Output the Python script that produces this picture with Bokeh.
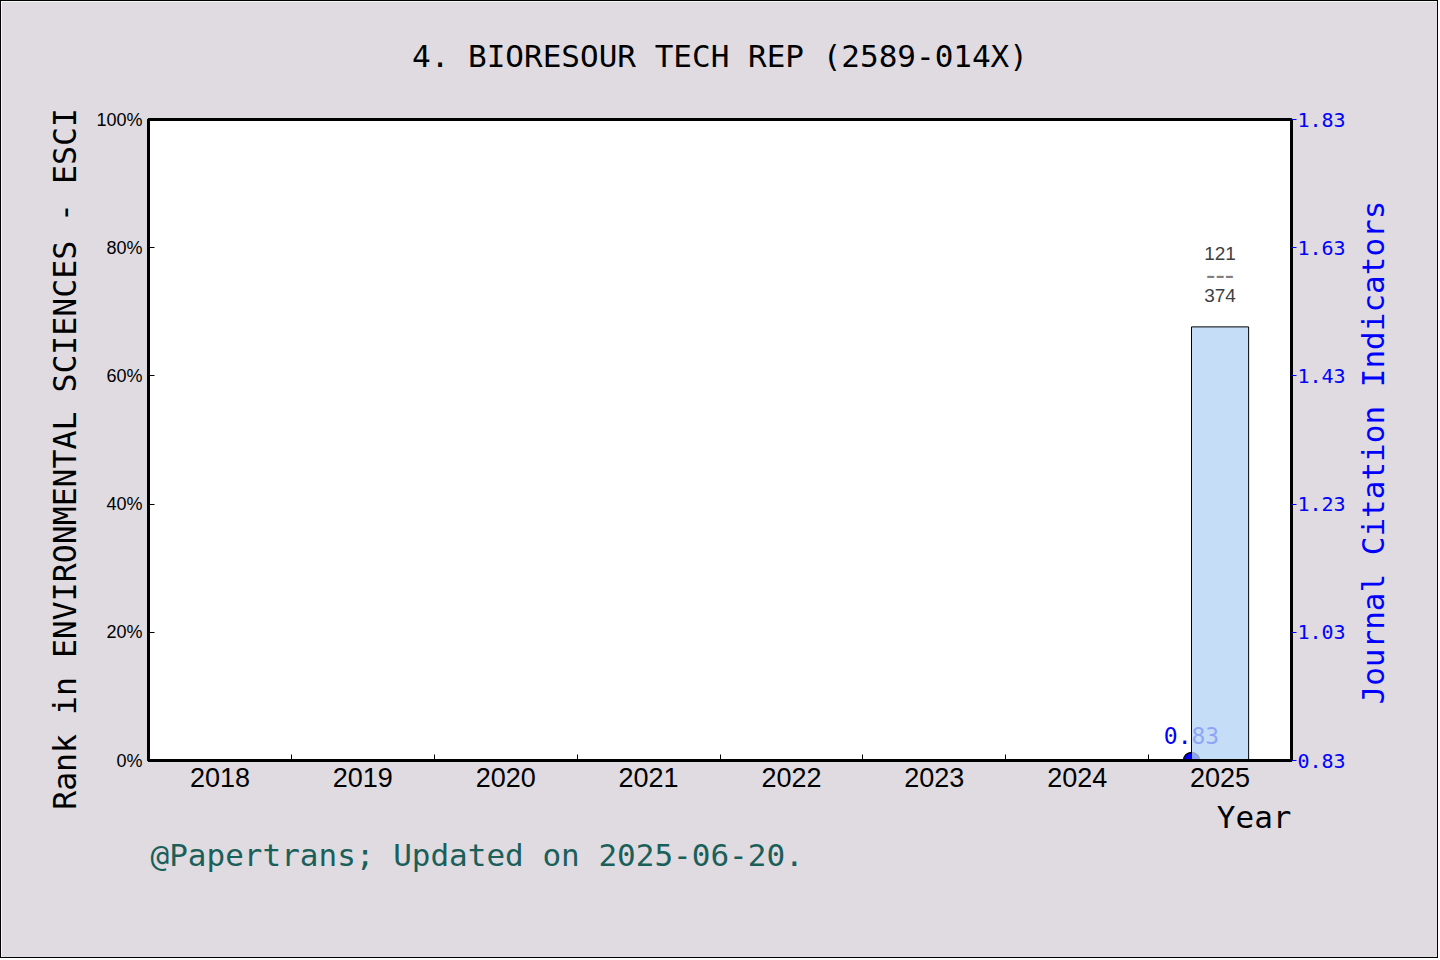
import math
from bokeh.plotting import figure
from bokeh.models import (Range1d, LinearAxis, FixedTicker, NumeralTickFormatter,
                          PrintfTickFormatter, Title, ColumnDataSource)
from bokeh.transform import dodge
from bokeh.core.properties import value
from bokeh.embed import file_html
from bokeh.resources import INLINE

# ---- data ----
years = [2018, 2019, 2020, 2021, 2022, 2023, 2024, 2025]
rank = [None, None, None, None, None, None, None, 121]
total = [None, None, None, None, None, None, None, 374]
jci = [None, None, None, None, None, None, None, 0.83]
title_text = "4. BIORESOUR TECH REP (2589-014X)"
category = "ENVIRONMENTAL SCIENCES - ESCI"
left_ticks = [0, 0.2, 0.4, 0.6, 0.8, 1.0]
right_ticks = [0.83, 1.03, 1.23, 1.43, 1.63, 1.83]
updated = "2025-06-20"

nan = float("nan")
pct = [(1 - r / t) if r is not None else nan for r, t in zip(rank, total)]
top_lbl = [str(r) if r is not None else "" for r in rank]
mid_lbl = ["---" if r is not None else "" for r in rank]
bot_lbl = [str(t) if t is not None else "" for t in total]
jci_v = [v if v is not None else nan for v in jci]
jci_lbl = [f"{v:.2f}" if v is not None else "" for v in jci]

src = ColumnDataSource(dict(year=years, pct=pct, top_lbl=top_lbl, mid_lbl=mid_lbl,
                            bot_lbl=bot_lbl, jci=jci_v, jci_lbl=jci_lbl))

BG = "#dfdbe0"
MONO = "DejaVu Sans Mono"
NB = "\u00a0"

p = figure(width=1438, height=958, output_backend="svg", toolbar_location=None,
           x_range=Range1d(years[0] - 0.5, years[-1] + 0.5), y_range=Range1d(0, 1),
           min_border_left=147, min_border_right=148, min_border_top=118, min_border_bottom=199,
           background_fill_color="white", border_fill_color=BG)
p.styles = {"border": "1px solid black"}
p.grid.visible = False
p.outline_line_color = "black"
p.outline_line_width = 3
p.outline_line_alpha = 1

# spacer between frame and title
p.add_layout(Title(text=NB, text_font=MONO, text_font_size="31px", standoff=3), "above")

# title
p.title.text = title_text
p.title.align = "center"
p.title.text_font = MONO
p.title.text_font_size = "31px"
p.title.text_font_style = "normal"
p.title.text_color = "black"
p.title.standoff = 10

# x axis
xa = p.xaxis[0]
xa.ticker = FixedTicker(ticks=years, minor_ticks=[y + 0.5 for y in years[:-1]])
xa.formatter = PrintfTickFormatter(format="%d")
xa.major_tick_line_color = None
xa.minor_tick_in = 6
xa.minor_tick_out = 0
xa.minor_tick_line_color = "black"
xa.axis_line_width = 3
xa.major_label_text_color = "black"
xa.major_label_text_font = "Liberation Sans"
xa.major_label_text_font_size = "27px"
xa.major_label_standoff = 1
xa.axis_label = "Year" + NB * 4
xa.axis_label_align = "end"
xa.axis_label_text_color = "black"
xa.axis_label_text_font = MONO
xa.axis_label_text_font_size = "31px"
xa.axis_label_text_font_style = "normal"
xa.axis_label_standoff = 9

# left axis
ya = p.yaxis[0]
ya.ticker = FixedTicker(ticks=left_ticks)
ya.formatter = NumeralTickFormatter(format="0%")
ya.major_tick_in = 6
ya.major_tick_out = 0
ya.minor_tick_line_color = None
ya.axis_line_width = 3
ya.major_label_text_color = "black"
ya.major_label_text_font = "Liberation Sans"
ya.major_label_text_font_size = "18px"
ya.major_label_standoff = 6
ya.axis_label = "Rank in " + category + NB + NB
ya.axis_label_text_color = "black"
ya.axis_label_text_font = MONO
ya.axis_label_text_font_size = "31.5px"
ya.axis_label_text_font_style = "normal"
ya.axis_label_standoff = 10

# right axis (JCI)
p.extra_y_ranges = {"jci": Range1d(right_ticks[0], right_ticks[-1])}
ra = LinearAxis(y_range_name="jci")
ra.ticker = FixedTicker(ticks=right_ticks)
ra.formatter = PrintfTickFormatter(format="%.2f")
ra.major_tick_in = 0
ra.major_tick_out = 5
ra.major_tick_line_color = "blue"
ra.minor_tick_line_color = None
ra.axis_line_width = 3
ra.axis_line_color = "black"
ra.major_label_text_color = "blue"
ra.major_label_text_font = MONO
ra.major_label_text_font_size = "20px"
ra.major_label_standoff = 1
ra.axis_label = NB * 3 + "Journal Citation Indicators"
ra.axis_label_text_color = "blue"
ra.axis_label_text_font = MONO
ra.axis_label_text_font_size = "31px"
ra.axis_label_text_font_style = "normal"
ra.axis_label_orientation = math.pi / 2
ra.axis_label_standoff = 24
ra.axis_label_align = "start"
p.add_layout(ra, "right")

# footer
foot_title = Title(text="@Papertrans; Updated on " + updated + ".", align="left",
                   text_font=MONO, text_font_size="31px", text_font_style="normal",
                   text_color="#1a5f5a", standoff=0, offset=2)
try:
    foot_title.standoff = -6
except Exception:
    pass
p.add_layout(foot_title, "below")

# JCI point (drawn under the bar)
p.scatter(x=dodge("year", -0.2, range=p.x_range), y="jci", source=src, y_range_name="jci",
          size=16, fill_color="blue", line_color="black", line_width=1.5)
p.text(x=dodge("year", -0.2, range=p.x_range), y="jci", text="jci_lbl", source=src,
       y_range_name="jci", text_align="center", text_baseline="bottom", y_offset=-17,
       text_color="blue", text_font=value(MONO), text_font_size="23px")

# rank bar
p.vbar(x="year", top="pct", bottom=0, width=0.4, source=src,
       fill_color="#b5d3f4", fill_alpha=0.78, line_color="black", line_width=1)
p.text(x="year", y="pct", text="top_lbl", source=src, text_align="center",
       text_baseline="middle", y_offset=-73, text_color="#404040",
       text_font=value("Liberation Sans"), text_font_size="19px")
p.text(x="year", y="pct", text="mid_lbl", source=src, text_align="center",
       text_baseline="middle", y_offset=-52, text_color="#808080",
       text_font=value("Liberation Sans"), text_font_size="28px")
p.text(x="year", y="pct", text="bot_lbl", source=src, text_align="center",
       text_baseline="middle", y_offset=-31, text_color="#404040",
       text_font=value("Liberation Sans"), text_font_size="19px")

open("out.html", "w").write(file_html(p, INLINE))
